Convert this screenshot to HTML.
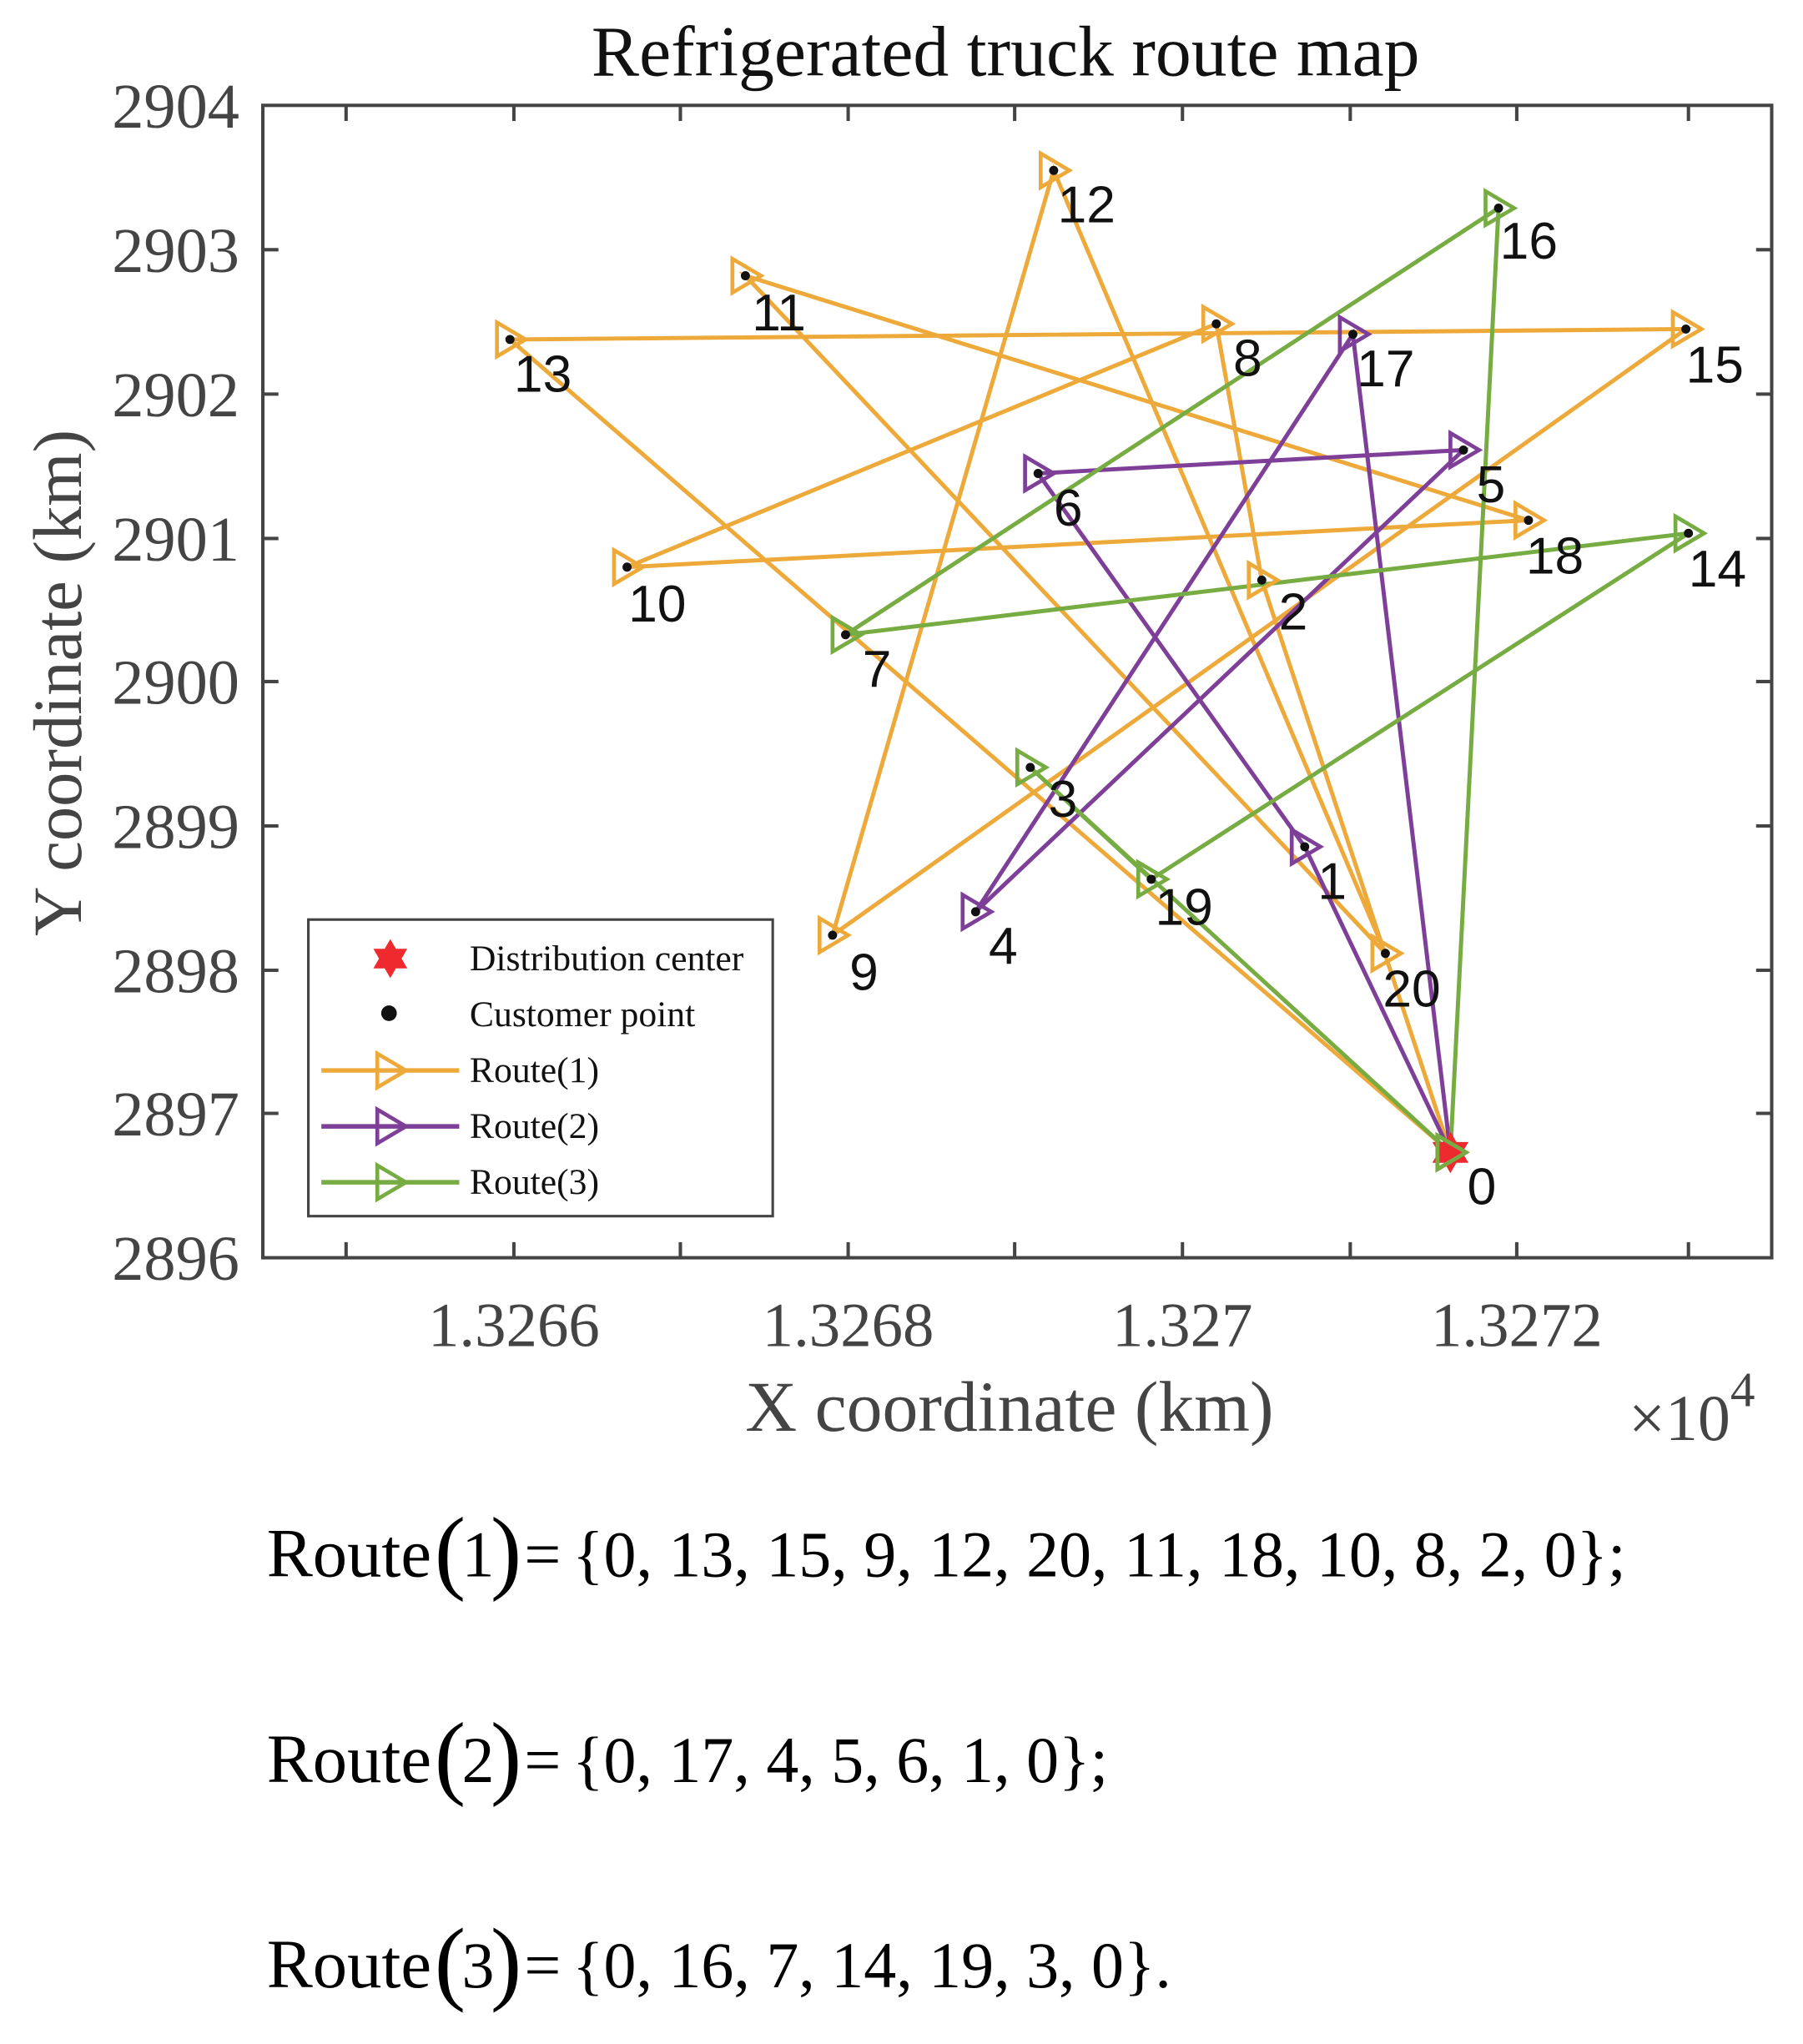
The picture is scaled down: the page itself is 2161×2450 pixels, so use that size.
<!DOCTYPE html>
<html><head><meta charset="utf-8"><style>html,body{margin:0;padding:0;background:#fff}svg{display:block}</style></head>
<body>
<svg width="2161" height="2450" viewBox="0 0 1386 1571.5" xmlns="http://www.w3.org/2000/svg">
<defs>
<g id="m1"><polygon points="-10,-13 -10,13 12,0" fill="none" stroke="#EDA93A" stroke-width="3"/></g>
<g id="m2"><polygon points="-10,-13 -10,13 12,0" fill="none" stroke="#7E3F98" stroke-width="3"/></g>
<g id="m3"><polygon points="-10,-13 -10,13 12,0" fill="none" stroke="#77AC43" stroke-width="3"/></g>
</defs>
<rect width="1386" height="1572" fill="#fff"/>
<text x="773" y="58" font-family="Liberation Serif, serif" font-size="55" text-anchor="middle" fill="#111">Refrigerated truck route map</text>
<rect x="202" y="81" width="1160" height="886" fill="none" stroke="#444" stroke-width="2.6"/>
<g stroke="#444" stroke-width="2.6">
<line x1="266" y1="81" x2="266" y2="93"/><line x1="266" y1="967" x2="266" y2="955"/>
<line x1="395" y1="81" x2="395" y2="93"/><line x1="395" y1="967" x2="395" y2="955"/>
<line x1="523" y1="81" x2="523" y2="93"/><line x1="523" y1="967" x2="523" y2="955"/>
<line x1="652" y1="81" x2="652" y2="93"/><line x1="652" y1="967" x2="652" y2="955"/>
<line x1="780" y1="81" x2="780" y2="93"/><line x1="780" y1="967" x2="780" y2="955"/>
<line x1="909" y1="81" x2="909" y2="93"/><line x1="909" y1="967" x2="909" y2="955"/>
<line x1="1038" y1="81" x2="1038" y2="93"/><line x1="1038" y1="967" x2="1038" y2="955"/>
<line x1="1166" y1="81" x2="1166" y2="93"/><line x1="1166" y1="967" x2="1166" y2="955"/>
<line x1="1298" y1="81" x2="1298" y2="93"/><line x1="1298" y1="967" x2="1298" y2="955"/>
<line x1="202" y1="192" x2="214" y2="192"/><line x1="1362" y1="192" x2="1350" y2="192"/>
<line x1="202" y1="303" x2="214" y2="303"/><line x1="1362" y1="303" x2="1350" y2="303"/>
<line x1="202" y1="414" x2="214" y2="414"/><line x1="1362" y1="414" x2="1350" y2="414"/>
<line x1="202" y1="524" x2="214" y2="524"/><line x1="1362" y1="524" x2="1350" y2="524"/>
<line x1="202" y1="635" x2="214" y2="635"/><line x1="1362" y1="635" x2="1350" y2="635"/>
<line x1="202" y1="746" x2="214" y2="746"/><line x1="1362" y1="746" x2="1350" y2="746"/>
<line x1="202" y1="856" x2="214" y2="856"/><line x1="1362" y1="856" x2="1350" y2="856"/>
</g>
<g font-family="Liberation Serif, serif" font-size="49" fill="#444" text-anchor="end">
<text x="184" y="98">2904</text><text x="184" y="209">2903</text><text x="184" y="320">2902</text>
<text x="184" y="431">2901</text><text x="184" y="541">2900</text><text x="184" y="652">2899</text>
<text x="184" y="763">2898</text><text x="184" y="873">2897</text><text x="184" y="984">2896</text>
</g>
<g font-family="Liberation Serif, serif" font-size="48" fill="#444" text-anchor="middle">
<text x="395" y="1035">1.3266</text><text x="652" y="1035">1.3268</text>
<text x="909" y="1035">1.327</text><text x="1166" y="1035">1.3272</text>
</g>
<text x="776" y="1100" font-family="Liberation Serif, serif" font-size="55" fill="#444" text-anchor="middle">X coordinate (km)</text>
<text transform="translate(62,525) rotate(-90)" font-family="Liberation Serif, serif" font-size="53" fill="#444" text-anchor="middle">Y coordinate (km)</text>
<text x="1252" y="1107" font-family="Liberation Serif, serif" font-size="50" fill="#444">×10<tspan dy="-26" font-size="38">4</tspan></text>

<polyline fill="none" stroke="#EDA93A" stroke-width="3.2" points="1115,886 392,261 1296,253 640,719 810,131 1065,733 573,212 1175,400 482,436 935,249 970,446 1115,886"/>
<polyline fill="none" stroke="#7E3F98" stroke-width="3.2" points="1115,886 1040,257 750,701 1125,346 798,364 1003,651 1115,886"/>
<polyline fill="none" stroke="#77AC43" stroke-width="3.2" points="1115,886 1152,160 650,488 1298,410 885,676 792,590 1115,886"/>
<g fill="#111">
<circle cx="1003" cy="651" r="3.5"/><circle cx="970" cy="446" r="3.5"/><circle cx="792" cy="590" r="3.5"/><circle cx="750" cy="701" r="3.5"/>
<circle cx="1125" cy="346" r="3.5"/><circle cx="798" cy="364" r="3.5"/><circle cx="650" cy="488" r="3.5"/><circle cx="935" cy="249" r="3.5"/>
<circle cx="640" cy="719" r="3.5"/><circle cx="482" cy="436" r="3.5"/><circle cx="573" cy="212" r="3.5"/><circle cx="810" cy="131" r="3.5"/>
<circle cx="392" cy="261" r="3.5"/><circle cx="1298" cy="410" r="3.5"/><circle cx="1296" cy="253" r="3.5"/><circle cx="1152" cy="160" r="3.5"/>
<circle cx="1040" cy="257" r="3.5"/><circle cx="1175" cy="400" r="3.5"/><circle cx="885" cy="676" r="3.5"/><circle cx="1065" cy="733" r="3.5"/>
</g>
<polygon transform="translate(1115,886)" fill="#EE2A2F" points="0,-16 4.6,-8 13.9,-8 9.2,0 13.9,8 4.6,8 0,16 -4.6,8 -13.9,8 -9.2,0 -13.9,-8 -4.6,-8"/>
<use href="#m1" x="1115" y="886"/><use href="#m1" x="392" y="261"/><use href="#m1" x="1296" y="253"/><use href="#m1" x="640" y="719"/>
<use href="#m1" x="810" y="131"/><use href="#m1" x="1065" y="733"/><use href="#m1" x="573" y="212"/><use href="#m1" x="1175" y="400"/>
<use href="#m1" x="482" y="436"/><use href="#m1" x="935" y="249"/><use href="#m1" x="970" y="446"/>
<use href="#m2" x="1115" y="886"/><use href="#m2" x="1040" y="257"/><use href="#m2" x="750" y="701"/><use href="#m2" x="1125" y="346"/>
<use href="#m2" x="798" y="364"/><use href="#m2" x="1003" y="651"/>
<use href="#m3" x="1115" y="886"/><use href="#m3" x="1152" y="160"/><use href="#m3" x="650" y="488"/><use href="#m3" x="1298" y="410"/>
<use href="#m3" x="885" y="676"/><use href="#m3" x="792" y="590"/>

<g font-family="Liberation Sans, sans-serif" font-size="40" fill="#111">
<text x="813" y="171">12</text><text x="1153" y="199">16</text><text x="395" y="301">13</text><text x="1296" y="294">15</text>
<text x="578" y="254">11</text><text x="948" y="289">8</text><text x="1043" y="297">17</text><text x="1135" y="386">5</text>
<text x="810" y="404">6</text><text x="1173" y="441">18</text><text x="1298" y="451">14</text><text x="483" y="478">10</text>
<text x="983" y="484">2</text><text x="663" y="528">7</text><text x="806" y="628">3</text><text x="1013" y="691">1</text>
<text x="888" y="711">19</text><text x="653" y="761">9</text><text x="760" y="741">4</text><text x="1063" y="774">20</text>
<text x="1128" y="926">0</text>
</g>

<rect x="237" y="707" width="357" height="228" fill="#fff" stroke="#444" stroke-width="2"/>
<polygon transform="translate(300,737)" fill="#EE2A2F" points="0,-15 4.3,-7.5 13,-7.5 8.7,0 13,7.5 4.3,7.5 0,15 -4.3,7.5 -13,7.5 -8.7,0 -13,-7.5 -4.3,-7.5"/>
<circle cx="299" cy="779" r="6" fill="#111"/>
<line x1="247" y1="823" x2="353" y2="823" stroke="#EDA93A" stroke-width="3.5"/><use href="#m1" x="300" y="823"/>
<line x1="247" y1="866" x2="353" y2="866" stroke="#7E3F98" stroke-width="3.5"/><use href="#m2" x="300" y="866"/>
<line x1="247" y1="909" x2="353" y2="909" stroke="#77AC43" stroke-width="3.5"/><use href="#m3" x="300" y="909"/>
<g font-family="Liberation Serif, serif" font-size="28" fill="#111">
<text x="361" y="746">Distribution center</text>
<text x="361" y="789">Customer point</text>
<text x="361" y="832">Route(1)</text>
<text x="361" y="875">Route(2)</text>
<text x="361" y="918">Route(3)</text>
</g>

<g font-family="Liberation Serif, serif" fill="#000">
<text x="205" y="1212" font-size="53">Route</text>
<text x="334" y="1216" font-size="72">(</text><text x="355" y="1212" font-size="50">1</text><text x="377" y="1216" font-size="72">)</text>
<text x="403" y="1212" font-size="50">=</text>
<text x="440" y="1212" font-size="50">{0, 13, 15, 9, 12, 20, 11, 18, 10, 8, 2, 0};</text>

<text x="205" y="1370" font-size="53">Route</text>
<text x="334" y="1374" font-size="72">(</text><text x="355" y="1370" font-size="50">2</text><text x="377" y="1374" font-size="72">)</text>
<text x="403" y="1370" font-size="50">=</text>
<text x="440" y="1370" font-size="50">{0, 17, 4, 5, 6, 1, 0};</text>

<text x="205" y="1528" font-size="53">Route</text>
<text x="334" y="1532" font-size="72">(</text><text x="355" y="1528" font-size="50">3</text><text x="377" y="1532" font-size="72">)</text>
<text x="403" y="1528" font-size="50">=</text>
<text x="440" y="1528" font-size="50">{0, 16, 7, 14, 19, 3, 0}.</text>
</g>
</svg>
</body></html>
